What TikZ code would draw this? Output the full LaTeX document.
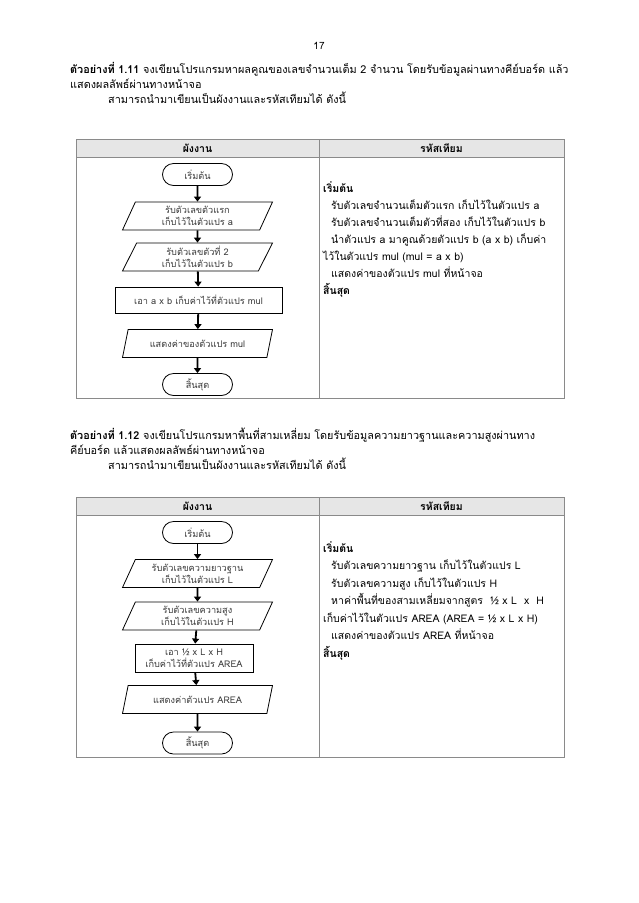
\documentclass[tikz,border=0pt]{standalone}
\usepackage{fontspec}
\setmainfont[Script=Thai]{Loma}
\usetikzlibrary{positioning, arrows.meta, shapes.geometric}
\definecolor{headgray}{HTML}{E6E6E6}
\definecolor{gridgray}{HTML}{8A8A8A}
\definecolor{flowtext}{HTML}{3A3A3A}

\begin{document}
\begin{tikzpicture}[x=1pt, y=-1pt,
    term/.style={
        draw, rounded corners=11pt, minimum width=70pt, minimum height=22pt,
        inner sep=1pt, font=\fontsize{9.2}{12}\selectfont, text=flowtext,
        line width=0.8pt
    },
    io/.style={
        draw, trapezium, trapezium left angle=59, trapezium right angle=121,
        trapezium stretches body, minimum width=150pt, minimum height=28pt,
        inner sep=1pt, align=center, font=\fontsize{9.2}{12}\selectfont,
        text=flowtext, line width=0.8pt
    },
    proc/.style={
        draw, minimum height=26pt, inner sep=1pt, align=center,
        font=\fontsize{9.2}{12}\selectfont, text=flowtext, line width=0.8pt
    },
    arr/.style={
        -{Triangle[length=5pt, width=7pt]}, line width=1.8pt
    },
    cell/.style={draw=gridgray, line width=1pt},
    hdr/.style={font=\fontsize{10.5}{12}\selectfont\bfseries},
    body/.style 2 args={
        anchor=base west, inner sep=0pt, align=left,
        font=\fontsize{#1}{#2}\selectfont
    }
]
\useasboundingbox (0,0) rectangle (638,903);

% Page number
\node[font=\fontsize{10}{12}\selectfont] (pgnum) at (319, 46) {17};

% Example 1.11: text (anchored at the baseline of its last line)
\node[body={10.85}{15}] (intro1) at (70, 103) {\textbf{ตัวอย่างที่ 1.11} จงเขียนโปรแกรมหาผลคูณของเลขจำนวนเต็ม 2 จำนวน โดยรับข้อมูลผ่านทางคีย์บอร์ด แล้ว\\
    แสดงผลลัพธ์ผ่านทางหน้าจอ\\
    \hspace*{38pt}สามารถนำมาเขียนเป็นผังงานและรหัสเทียมได้ ดังนี้};

% Example 1.11: table
\draw[cell, fill=headgray] (76,139) rectangle (564,157);
\draw[cell] (76,139) rectangle (564,398);
\draw[cell] (319,139) -- (319,398);
\node[hdr] (fhead1) at (197.5, 148) {ผังงาน};
\node[hdr] (phead1) at (441.5, 148) {รหัสเทียม};

% Example 1.11: flowchart
\node[term] (start1) at (197.5, 174.5) {เริ่มต้น};
\node[io] (in1a) at (197.5, 216) {รับตัวเลขตัวแรก\\เก็บไว้ในตัวแปร a};
\node[io] (in1b) at (197.5, 257) {รับตัวเลขตัวที่ 2\\เก็บไว้ในตัวแปร b};
\node[proc, minimum width=167pt] (calc1) at (198.5, 300) {เอา a x b เก็บค่าไว้ที่ตัวแปร mul};
\node[io] (out1) at (197.5, 343.5) {แสดงค่าของตัวแปร mul};
\node[term] (stop1) at (197.5, 384.5) {สิ้นสุด};

\draw[arr] (start1) -- (in1a);
\draw[arr] (in1a) -- (in1b);
\draw[arr] (in1b) -- (calc1);
\draw[arr] (calc1) -- (out1);
\draw[arr] (out1) -- (stop1);

% Example 1.11: pseudocode
\node[body={10.5}{17}] (code1) at (323, 294) {\textbf{เริ่มต้น}\\
    \hspace*{8pt}รับตัวเลขจำนวนเต็มตัวแรก เก็บไว้ในตัวแปร a\\
    \hspace*{8pt}รับตัวเลขจำนวนเต็มตัวที่สอง เก็บไว้ในตัวแปร b\\
    \hspace*{8pt}นำตัวแปร a มาคูณด้วยตัวแปร b (a x b) เก็บค่า\\
    ไว้ในตัวแปร mul (mul = a x b)\\
    \hspace*{8pt}แสดงค่าของตัวแปร mul ที่หน้าจอ\\
    \textbf{สิ้นสุด}};

% Example 1.12: text
\node[body={10.85}{15}] (intro2) at (70, 469) {\textbf{ตัวอย่างที่ 1.12} จงเขียนโปรแกรมหาพื้นที่สามเหลี่ยม โดยรับข้อมูลความยาวฐานและความสูงผ่านทาง\\
    คีย์บอร์ด แล้วแสดงผลลัพธ์ผ่านทางหน้าจอ\\
    \hspace*{38pt}สามารถนำมาเขียนเป็นผังงานและรหัสเทียมได้ ดังนี้};

% Example 1.12: table
\draw[cell, fill=headgray] (76,497) rectangle (564,515);
\draw[cell] (76,497) rectangle (564,757);
\draw[cell] (319,497) -- (319,757);
\node[hdr] (fhead2) at (197.5, 506) {ผังงาน};
\node[hdr] (phead2) at (441.5, 506) {รหัสเทียม};

% Example 1.12: flowchart
\node[term] (start2) at (197.5, 532.5) {เริ่มต้น};
\node[io] (in2a) at (197.5, 573.5) {รับตัวเลขความยาวฐาน\\เก็บไว้ในตัวแปร L};
\node[io] (in2b) at (197.5, 616) {รับตัวเลขความสูง\\เก็บไว้ในตัวแปร H};
\node[proc, minimum width=118pt, minimum height=28pt] (calc2) at (194, 658) {เอา ½ x L x H\\เก็บค่าไว้ที่ตัวแปร AREA};
\node[io] (out2) at (197.5, 699.5) {แสดงค่าตัวแปร AREA};
\node[term] (stop2) at (197.5, 743) {สิ้นสุด};

\draw[arr] (start2) -- (in2a);
\draw[arr] (in2a) -- (in2b);
\draw[arr] (in2b) -- (calc2);
\draw[arr] (calc2) -- (out2);
\draw[arr] (out2) -- (stop2);

% Example 1.12: pseudocode
\node[body={10.5}{17.5}] (code2) at (323, 657) {\textbf{เริ่มต้น}\\
    \hspace*{8pt}รับตัวเลขความยาวฐาน เก็บไว้ในตัวแปร L\\
    \hspace*{8pt}รับตัวเลขความสูง เก็บไว้ในตัวแปร H\\
    \hspace*{8pt}หาค่าพื้นที่ของสามเหลี่ยมจากสูตร\ \ ½ x L\ \ x\ \ H\\
    เก็บค่าไว้ในตัวแปร AREA (AREA = ½ x L x H)\\
    \hspace*{8pt}แสดงค่าของตัวแปร AREA ที่หน้าจอ\\
    \textbf{สิ้นสุด}};

\end{tikzpicture}
\end{document}
